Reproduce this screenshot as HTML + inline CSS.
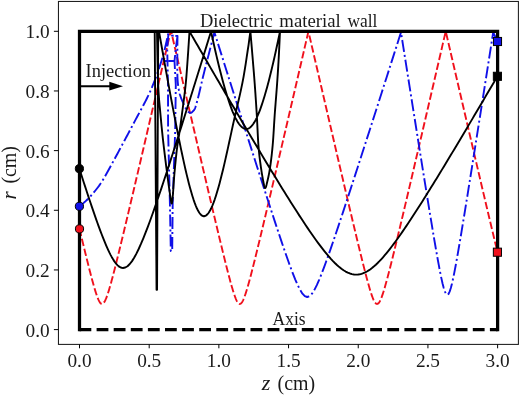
<!DOCTYPE html>
<html><head><meta charset="utf-8"><title>Trajectories</title>
<style>html,body{margin:0;padding:0;background:#fff}body{width:520px;height:396px;overflow:hidden}svg{display:block}svg text{font-family:"Liberation Serif",serif}</style></head>
<body>
<svg width="520" height="396" viewBox="0 0 520 396">
<rect width="520" height="396" fill="#fff"/>
<rect x="58.45" y="1.45" width="459.95" height="342.95" fill="none" stroke="#1a1a1a" stroke-width="1.05"/>
<line x1="79.50" y1="344.4" x2="79.50" y2="348.3" stroke="#000" stroke-width="1"/>
<text x="79.50" y="367.2" font-size="19.3" text-anchor="middle" fill="#1a1a1a">0.0</text>
<line x1="149.19" y1="344.4" x2="149.19" y2="348.3" stroke="#000" stroke-width="1"/>
<text x="149.19" y="367.2" font-size="19.3" text-anchor="middle" fill="#1a1a1a">0.5</text>
<line x1="218.87" y1="344.4" x2="218.87" y2="348.3" stroke="#000" stroke-width="1"/>
<text x="218.87" y="367.2" font-size="19.3" text-anchor="middle" fill="#1a1a1a">1.0</text>
<line x1="288.56" y1="344.4" x2="288.56" y2="348.3" stroke="#000" stroke-width="1"/>
<text x="288.56" y="367.2" font-size="19.3" text-anchor="middle" fill="#1a1a1a">1.5</text>
<line x1="358.24" y1="344.4" x2="358.24" y2="348.3" stroke="#000" stroke-width="1"/>
<text x="358.24" y="367.2" font-size="19.3" text-anchor="middle" fill="#1a1a1a">2.0</text>
<line x1="427.93" y1="344.4" x2="427.93" y2="348.3" stroke="#000" stroke-width="1"/>
<text x="427.93" y="367.2" font-size="19.3" text-anchor="middle" fill="#1a1a1a">2.5</text>
<line x1="497.61" y1="344.4" x2="497.61" y2="348.3" stroke="#000" stroke-width="1"/>
<text x="497.61" y="367.2" font-size="19.3" text-anchor="middle" fill="#1a1a1a">3.0</text>
<line x1="53.9" y1="329.60" x2="58.45" y2="329.60" stroke="#000" stroke-width="1"/>
<text x="49.6" y="336.70" font-size="19.3" text-anchor="end" fill="#1a1a1a">0.0</text>
<line x1="53.9" y1="269.94" x2="58.45" y2="269.94" stroke="#000" stroke-width="1"/>
<text x="49.6" y="277.04" font-size="19.3" text-anchor="end" fill="#1a1a1a">0.2</text>
<line x1="53.9" y1="210.28" x2="58.45" y2="210.28" stroke="#000" stroke-width="1"/>
<text x="49.6" y="217.38" font-size="19.3" text-anchor="end" fill="#1a1a1a">0.4</text>
<line x1="53.9" y1="150.62" x2="58.45" y2="150.62" stroke="#000" stroke-width="1"/>
<text x="49.6" y="157.72" font-size="19.3" text-anchor="end" fill="#1a1a1a">0.6</text>
<line x1="53.9" y1="90.96" x2="58.45" y2="90.96" stroke="#000" stroke-width="1"/>
<text x="49.6" y="98.06" font-size="19.3" text-anchor="end" fill="#1a1a1a">0.8</text>
<line x1="53.9" y1="31.30" x2="58.45" y2="31.30" stroke="#000" stroke-width="1"/>
<text x="49.6" y="38.40" font-size="19.3" text-anchor="end" fill="#1a1a1a">1.0</text>
<text y="389.7" font-size="20" fill="#1a1a1a"><tspan x="261.8" font-style="italic" textLength="8.6" lengthAdjust="spacingAndGlyphs">z</tspan> <tspan x="277.6" textLength="37.6" lengthAdjust="spacingAndGlyphs">(cm)</tspan></text>
<text transform="translate(16.4,199.8) rotate(-90)" y="0" font-size="20" fill="#1a1a1a"><tspan x="0.3" font-style="italic" textLength="8.2" lengthAdjust="spacingAndGlyphs">r</tspan> <tspan x="16.2" textLength="37.6" lengthAdjust="spacingAndGlyphs">(cm)</tspan></text>
<path d="M79.50,228.87 L79.85,230.33 L80.20,231.78 L80.55,233.24 L80.89,234.69 L81.24,236.15 L81.59,237.60 L81.94,239.04 L82.29,240.49 L82.64,241.93 L82.99,243.38 L83.34,244.82 L83.68,246.25 L84.03,247.69 L84.38,249.12 L84.73,250.55 L85.08,251.97 L85.43,253.40 L85.78,254.82 L86.13,256.23 L86.47,257.64 L86.82,259.05 L87.17,260.46 L87.52,261.85 L87.87,263.25 L88.22,264.64 L88.57,266.02 L88.92,267.40 L89.26,268.77 L89.61,270.14 L89.96,271.49 L90.31,272.84 L90.66,274.19 L91.01,275.52 L91.36,276.84 L91.71,278.16 L92.05,279.46 L92.40,280.75 L92.75,282.03 L93.10,283.29 L93.45,284.54 L93.80,285.77 L94.15,286.99 L94.49,288.18 L94.84,289.36 L95.19,290.51 L95.54,291.63 L95.89,292.73 L96.24,293.80 L96.59,294.84 L96.94,295.84 L97.28,296.80 L97.63,297.72 L97.98,298.59 L98.33,299.41 L98.68,300.18 L99.03,300.89 L99.38,301.53 L99.73,302.11 L100.07,302.62 L100.42,303.04 L100.77,303.39 L101.12,303.66 L101.47,303.84 L101.82,303.93 L102.17,303.94 L102.52,303.85 L102.86,303.68 L103.21,303.42 L103.56,303.08 L103.91,302.66 L104.26,302.16 L104.61,301.59 L104.96,300.95 L105.30,300.25 L105.65,299.48 L106.00,298.67 L106.35,297.80 L106.70,296.88 L107.05,295.93 L107.40,294.93 L107.75,293.90 L108.09,292.83 L108.44,291.74 L108.79,290.61 L109.14,289.46 L109.49,288.29 L109.84,287.10 L110.19,285.89 L110.54,284.65 L110.88,283.41 L111.23,282.14 L111.58,280.87 L111.93,279.58 L112.28,278.28 L112.63,276.97 L112.98,275.64 L113.33,274.31 L113.67,272.97 L114.02,271.62 L114.37,270.26 L114.72,268.90 L115.07,267.53 L115.42,266.15 L115.77,264.77 L116.12,263.38 L116.46,261.98 L116.81,260.59 L117.16,259.18 L117.51,257.77 L117.86,256.36 L118.21,254.95 L118.56,253.53 L118.90,252.11 L119.25,250.68 L119.60,249.25 L119.95,247.82 L120.30,246.39 L120.65,244.95 L121.00,243.51 L121.35,242.07 L121.69,240.62 L122.04,239.18 L122.39,237.73 L122.74,236.28 L123.09,234.83 L123.44,233.37 L123.79,231.92 L124.14,230.46 L124.48,229.00 L124.83,227.54 L125.18,226.08 L125.53,224.62 L125.88,223.15 L126.23,221.69 L126.58,220.22 L126.93,218.75 L127.27,217.29 L127.62,215.82 L127.97,214.35 L128.32,212.87 L128.67,211.40 L129.02,209.93 L129.37,208.45 L129.72,206.98 L130.06,205.50 L130.41,204.02 L130.76,202.55 L131.11,201.07 L131.46,199.59 L131.81,198.11 L132.16,196.63 L132.50,195.15 L132.85,193.67 L133.20,192.18 L133.55,190.70 L133.90,189.22 L134.25,187.73 L134.60,186.25 L134.95,184.76 L135.29,183.28 L135.64,181.79 L135.99,180.31 L136.34,178.82 L136.69,177.33 L137.04,175.84 L137.39,174.36 L137.74,172.87 L138.08,171.38 L138.43,169.89 L138.78,168.40 L139.13,166.91 L139.48,165.42 L139.83,163.93 L140.18,162.44 L140.53,160.94 L140.87,159.45 L141.22,157.96 L141.57,156.47 L141.92,154.98 L142.27,153.48 L142.62,151.99 L142.97,150.50 L143.31,149.00 L143.66,147.51 L144.01,146.01 L144.36,144.52 L144.71,143.02 L145.06,141.53 L145.41,140.03 L145.76,138.54 L146.10,137.04 L146.45,135.55 L146.80,134.05 L147.15,132.56 L147.50,131.06 L147.85,129.56 L148.20,128.07 L148.55,126.57 L148.89,125.07 L149.24,123.57 L149.59,122.08 L149.94,120.58 L150.29,119.08 L150.64,117.58 L150.99,116.09 L151.34,114.59 L151.68,113.09 L152.03,111.59 L152.38,110.09 L152.73,108.59 L153.08,107.09 L153.43,105.59 L153.78,104.09 L154.13,102.60 L154.47,101.10 L154.82,99.60 L155.17,98.10 L155.52,96.60 L155.87,95.10 L156.22,93.60 L156.57,92.10 L156.91,90.60 L157.26,89.10 L157.61,87.59 L157.96,86.09 L158.31,84.59 L158.66,83.09 L159.01,81.59 L159.36,80.09 L159.70,78.59 L160.05,77.09 L160.40,75.59 L160.75,74.08 L161.10,72.58 L161.45,71.08 L161.80,69.58 L162.15,68.08 L162.49,66.58 L162.84,65.07 L163.19,63.57 L163.54,62.07 L163.89,60.57 L164.24,59.06 L164.59,57.56 L164.94,56.06 L165.28,54.56 L165.63,53.05 L165.98,51.55 L166.33,50.05 L166.68,48.55 L167.03,47.04 L167.38,45.54 L167.73,44.04 L168.07,42.53 L168.42,41.03 L168.77,39.53 L169.12,38.02 L169.47,36.52 L169.82,35.02 L170.17,33.51 L170.51,32.01 L170.86,31.30 L171.21,31.77 L171.56,33.27 L171.91,34.77 L172.26,36.28 L172.61,37.78 L172.96,39.28 L173.30,40.79 L173.65,42.29 L174.00,43.79 L174.35,45.30 L174.70,46.80 L175.05,48.30 L175.40,49.80 L175.75,51.31 L176.09,52.81 L176.44,54.31 L176.79,55.82 L177.14,57.32 L177.49,58.82 L177.84,60.32 L178.19,61.82 L178.54,63.33 L178.88,64.83 L179.23,66.33 L179.58,67.83 L179.93,69.33 L180.28,70.84 L180.63,72.34 L180.98,73.84 L181.32,75.34 L181.67,76.84 L182.02,78.34 L182.37,79.85 L182.72,81.35 L183.07,82.85 L183.42,84.35 L183.77,85.85 L184.11,87.35 L184.46,88.85 L184.81,90.35 L185.16,91.85 L185.51,93.35 L185.86,94.85 L186.21,96.35 L186.56,97.85 L186.90,99.35 L187.25,100.85 L187.60,102.35 L187.95,103.85 L188.30,105.35 L188.65,106.85 L189.00,108.35 L189.35,109.85 L189.69,111.35 L190.04,112.84 L190.39,114.34 L190.74,115.84 L191.09,117.34 L191.44,118.84 L191.79,120.34 L192.14,121.83 L192.48,123.33 L192.83,124.83 L193.18,126.33 L193.53,127.82 L193.88,129.32 L194.23,130.82 L194.58,132.31 L194.92,133.81 L195.27,135.30 L195.62,136.80 L195.97,138.30 L196.32,139.79 L196.67,141.29 L197.02,142.78 L197.37,144.28 L197.71,145.77 L198.06,147.27 L198.41,148.76 L198.76,150.25 L199.11,151.75 L199.46,153.24 L199.81,154.73 L200.16,156.23 L200.50,157.72 L200.85,159.21 L201.20,160.70 L201.55,162.19 L201.90,163.68 L202.25,165.18 L202.60,166.67 L202.95,168.16 L203.29,169.65 L203.64,171.14 L203.99,172.62 L204.34,174.11 L204.69,175.60 L205.04,177.09 L205.39,178.58 L205.74,180.06 L206.08,181.55 L206.43,183.04 L206.78,184.52 L207.13,186.01 L207.48,187.49 L207.83,188.98 L208.18,190.46 L208.52,191.94 L208.87,193.42 L209.22,194.91 L209.57,196.39 L209.92,197.87 L210.27,199.35 L210.62,200.83 L210.97,202.31 L211.31,203.78 L211.66,205.26 L212.01,206.74 L212.36,208.21 L212.71,209.69 L213.06,211.16 L213.41,212.63 L213.76,214.11 L214.10,215.58 L214.45,217.05 L214.80,218.52 L215.15,219.98 L215.50,221.45 L215.85,222.92 L216.20,224.38 L216.55,225.84 L216.89,227.30 L217.24,228.76 L217.59,230.22 L217.94,231.68 L218.29,233.14 L218.64,234.59 L218.99,236.04 L219.33,237.49 L219.68,238.94 L220.03,240.39 L220.38,241.83 L220.73,243.27 L221.08,244.71 L221.43,246.15 L221.78,247.59 L222.12,249.02 L222.47,250.45 L222.82,251.87 L223.17,253.30 L223.52,254.72 L223.87,256.13 L224.22,257.54 L224.57,258.95 L224.91,260.36 L225.26,261.76 L225.61,263.15 L225.96,264.54 L226.31,265.92 L226.66,267.30 L227.01,268.68 L227.36,270.04 L227.70,271.40 L228.05,272.75 L228.40,274.09 L228.75,275.43 L229.10,276.75 L229.45,278.06 L229.80,279.37 L230.15,280.66 L230.49,281.94 L230.84,283.20 L231.19,284.45 L231.54,285.69 L231.89,286.90 L232.24,288.10 L232.59,289.27 L232.93,290.43 L233.28,291.55 L233.63,292.65 L233.98,293.73 L234.33,294.76 L234.68,295.77 L235.03,296.73 L235.38,297.65 L235.72,298.53 L236.07,299.35 L236.42,300.13 L236.77,300.84 L237.12,301.49 L237.47,302.07 L237.82,302.58 L238.17,303.02 L238.51,303.37 L238.86,303.64 L239.21,303.83 L239.56,303.93 L239.91,303.94 L240.26,303.86 L240.61,303.70 L240.96,303.44 L241.30,303.11 L241.65,302.69 L242.00,302.20 L242.35,301.63 L242.70,301.00 L243.05,300.30 L243.40,299.54 L243.75,298.73 L244.09,297.86 L244.44,296.95 L244.79,295.99 L245.14,295.00 L245.49,293.97 L245.84,292.91 L246.19,291.81 L246.53,290.69 L246.88,289.54 L247.23,288.37 L247.58,287.18 L247.93,285.97 L248.28,284.74 L248.63,283.50 L248.98,282.23 L249.32,280.96 L249.67,279.67 L250.02,278.37 L250.37,277.06 L250.72,275.74 L251.07,274.40 L251.42,273.06 L251.77,271.71 L252.11,270.36 L252.46,268.99 L252.81,267.62 L253.16,266.25 L253.51,264.86 L253.86,263.48 L254.21,262.08 L254.56,260.68 L254.90,259.28 L255.25,257.87 L255.60,256.46 L255.95,255.05 L256.30,253.63 L256.65,252.21 L257.00,250.78 L257.34,249.35 L257.69,247.92 L258.04,246.49 L258.39,245.05 L258.74,243.61 L259.09,242.17 L259.44,240.73 L259.79,239.28 L260.13,237.83 L260.48,236.38 L260.83,234.93 L261.18,233.48 L261.53,232.02 L261.88,230.56 L262.23,229.11 L262.58,227.65 L262.92,226.18 L263.27,224.72 L263.62,223.26 L263.97,221.79 L264.32,220.33 L264.67,218.86 L265.02,217.39 L265.37,215.92 L265.71,214.45 L266.06,212.98 L266.41,211.50 L266.76,210.03 L267.11,208.56 L267.46,207.08 L267.81,205.61 L268.16,204.13 L268.50,202.65 L268.85,201.17 L269.20,199.69 L269.55,198.21 L269.90,196.73 L270.25,195.25 L270.60,193.77 L270.94,192.29 L271.29,190.81 L271.64,189.32 L271.99,187.84 L272.34,186.35 L272.69,184.87 L273.04,183.38 L273.39,181.90 L273.73,180.41 L274.08,178.92 L274.43,177.44 L274.78,175.95 L275.13,174.46 L275.48,172.97 L275.83,171.48 L276.18,169.99 L276.52,168.50 L276.87,167.01 L277.22,165.52 L277.57,164.03 L277.92,162.54 L278.27,161.05 L278.62,159.56 L278.97,158.07 L279.31,156.57 L279.66,155.08 L280.01,153.59 L280.36,152.09 L280.71,150.60 L281.06,149.11 L281.41,147.61 L281.76,146.12 L282.10,144.63 L282.45,143.13 L282.80,141.64 L283.15,140.14 L283.50,138.64 L283.85,137.15 L284.20,135.65 L284.54,134.16 L284.89,132.66 L285.24,131.16 L285.59,129.67 L285.94,128.17 L286.29,126.67 L286.64,125.18 L286.99,123.68 L287.33,122.18 L287.68,120.68 L288.03,119.19 L288.38,117.69 L288.73,116.19 L289.08,114.69 L289.43,113.19 L289.78,111.70 L290.12,110.20 L290.47,108.70 L290.82,107.20 L291.17,105.70 L291.52,104.20 L291.87,102.70 L292.22,101.20 L292.57,99.70 L292.91,98.20 L293.26,96.70 L293.61,95.20 L293.96,93.70 L294.31,92.20 L294.66,90.70 L295.01,89.20 L295.35,87.70 L295.70,86.20 L296.05,84.70 L296.40,83.20 L296.75,81.70 L297.10,80.20 L297.45,78.69 L297.80,77.19 L298.14,75.69 L298.49,74.19 L298.84,72.69 L299.19,71.19 L299.54,69.69 L299.89,68.18 L300.24,66.68 L300.59,65.18 L300.93,63.68 L301.28,62.18 L301.63,60.67 L301.98,59.17 L302.33,57.67 L302.68,56.17 L303.03,54.66 L303.38,53.16 L303.72,51.66 L304.07,50.16 L304.42,48.65 L304.77,47.15 L305.12,45.65 L305.47,44.14 L305.82,42.64 L306.17,41.14 L306.51,39.63 L306.86,38.13 L307.21,36.63 L307.56,35.12 L307.91,33.62 L308.26,32.12 L308.61,32.26 L308.95,33.76 L309.30,35.27 L309.65,36.77 L310.00,38.27 L310.35,39.78 L310.70,41.28 L311.05,42.78 L311.40,44.29 L311.74,45.79 L312.09,47.29 L312.44,48.80 L312.79,50.30 L313.14,51.80 L313.49,53.30 L313.84,54.81 L314.19,56.31 L314.53,57.81 L314.88,59.31 L315.23,60.82 L315.58,62.32 L315.93,63.82 L316.28,65.32 L316.63,66.82 L316.98,68.33 L317.32,69.83 L317.67,71.33 L318.02,72.83 L318.37,74.33 L318.72,75.83 L319.07,77.34 L319.42,78.84 L319.77,80.34 L320.11,81.84 L320.46,83.34 L320.81,84.84 L321.16,86.34 L321.51,87.84 L321.86,89.34 L322.21,90.84 L322.55,92.34 L322.90,93.84 L323.25,95.34 L323.60,96.84 L323.95,98.34 L324.30,99.84 L324.65,101.34 L325.00,102.84 L325.34,104.34 L325.69,105.84 L326.04,107.34 L326.39,108.84 L326.74,110.34 L327.09,111.84 L327.44,113.34 L327.79,114.84 L328.13,116.33 L328.48,117.83 L328.83,119.33 L329.18,120.83 L329.53,122.32 L329.88,123.82 L330.23,125.32 L330.58,126.82 L330.92,128.31 L331.27,129.81 L331.62,131.31 L331.97,132.80 L332.32,134.30 L332.67,135.80 L333.02,137.29 L333.36,138.79 L333.71,140.28 L334.06,141.78 L334.41,143.27 L334.76,144.77 L335.11,146.26 L335.46,147.76 L335.81,149.25 L336.15,150.74 L336.50,152.24 L336.85,153.73 L337.20,155.22 L337.55,156.72 L337.90,158.21 L338.25,159.70 L338.60,161.19 L338.94,162.68 L339.29,164.17 L339.64,165.66 L339.99,167.16 L340.34,168.65 L340.69,170.13 L341.04,171.62 L341.39,173.11 L341.73,174.60 L342.08,176.09 L342.43,177.58 L342.78,179.06 L343.13,180.55 L343.48,182.04 L343.83,183.52 L344.18,185.01 L344.52,186.49 L344.87,187.98 L345.22,189.46 L345.57,190.95 L345.92,192.43 L346.27,193.91 L346.62,195.39 L346.96,196.87 L347.31,198.35 L347.66,199.83 L348.01,201.31 L348.36,202.79 L348.71,204.27 L349.06,205.75 L349.41,207.22 L349.75,208.70 L350.10,210.17 L350.45,211.64 L350.80,213.12 L351.15,214.59 L351.50,216.06 L351.85,217.53 L352.20,219.00 L352.54,220.47 L352.89,221.93 L353.24,223.40 L353.59,224.86 L353.94,226.32 L354.29,227.78 L354.64,229.24 L354.99,230.70 L355.33,232.16 L355.68,233.61 L356.03,235.07 L356.38,236.52 L356.73,237.97 L357.08,239.42 L357.43,240.86 L357.78,242.31 L358.12,243.75 L358.47,245.19 L358.82,246.62 L359.17,248.06 L359.52,249.49 L359.87,250.92 L360.22,252.34 L360.56,253.76 L360.91,255.18 L361.26,256.60 L361.61,258.01 L361.96,259.41 L362.31,260.82 L362.66,262.21 L363.01,263.61 L363.35,265.00 L363.70,266.38 L364.05,267.75 L364.40,269.12 L364.75,270.49 L365.10,271.84 L365.45,273.19 L365.80,274.53 L366.14,275.86 L366.49,277.18 L366.84,278.49 L367.19,279.79 L367.54,281.08 L367.89,282.35 L368.24,283.61 L368.59,284.86 L368.93,286.09 L369.28,287.30 L369.63,288.49 L369.98,289.65 L370.33,290.80 L370.68,291.92 L371.03,293.01 L371.37,294.07 L371.72,295.10 L372.07,296.09 L372.42,297.04 L372.77,297.95 L373.12,298.80 L373.47,299.61 L373.82,300.37 L374.16,301.06 L374.51,301.69 L374.86,302.25 L375.21,302.73 L375.56,303.14 L375.91,303.47 L376.26,303.71 L376.61,303.87 L376.95,303.94 L377.30,303.92 L377.65,303.82 L378.00,303.62 L378.35,303.34 L378.70,302.98 L379.05,302.54 L379.40,302.02 L379.74,301.43 L380.09,300.77 L380.44,300.05 L380.79,299.28 L381.14,298.45 L381.49,297.57 L381.84,296.64 L382.19,295.67 L382.53,294.67 L382.88,293.63 L383.23,292.55 L383.58,291.45 L383.93,290.32 L384.28,289.16 L384.63,287.99 L384.97,286.79 L385.32,285.57 L385.67,284.33 L386.02,283.08 L386.37,281.82 L386.72,280.54 L387.07,279.24 L387.42,277.94 L387.76,276.63 L388.11,275.30 L388.46,273.97 L388.81,272.62 L389.16,271.27 L389.51,269.91 L389.86,268.55 L390.21,267.17 L390.55,265.79 L390.90,264.41 L391.25,263.02 L391.60,261.62 L391.95,260.22 L392.30,258.82 L392.65,257.41 L393.00,256.00 L393.34,254.58 L393.69,253.16 L394.04,251.74 L394.39,250.31 L394.74,248.88 L395.09,247.45 L395.44,246.02 L395.79,244.58 L396.13,243.14 L396.48,241.70 L396.83,240.25 L397.18,238.80 L397.53,237.36 L397.88,235.90 L398.23,234.45 L398.57,233.00 L398.92,231.54 L399.27,230.09 L399.62,228.63 L399.97,227.17 L400.32,225.70 L400.67,224.24 L401.02,222.78 L401.36,221.31 L401.71,219.84 L402.06,218.38 L402.41,216.91 L402.76,215.44 L403.11,213.97 L403.46,212.49 L403.81,211.02 L404.15,209.55 L404.50,208.07 L404.85,206.60 L405.20,205.12 L405.55,203.64 L405.90,202.17 L406.25,200.69 L406.60,199.21 L406.94,197.73 L407.29,196.25 L407.64,194.77 L407.99,193.28 L408.34,191.80 L408.69,190.32 L409.04,188.83 L409.38,187.35 L409.73,185.87 L410.08,184.38 L410.43,182.89 L410.78,181.41 L411.13,179.92 L411.48,178.44 L411.83,176.95 L412.17,175.46 L412.52,173.97 L412.87,172.48 L413.22,170.99 L413.57,169.50 L413.92,168.01 L414.27,166.52 L414.62,165.03 L414.96,163.54 L415.31,162.05 L415.66,160.56 L416.01,159.07 L416.36,157.58 L416.71,156.08 L417.06,154.59 L417.41,153.10 L417.75,151.60 L418.10,150.11 L418.45,148.62 L418.80,147.12 L419.15,145.63 L419.50,144.13 L419.85,142.64 L420.20,141.14 L420.54,139.65 L420.89,138.15 L421.24,136.66 L421.59,135.16 L421.94,133.67 L422.29,132.17 L422.64,130.67 L422.98,129.18 L423.33,127.68 L423.68,126.18 L424.03,124.69 L424.38,123.19 L424.73,121.69 L425.08,120.19 L425.43,118.70 L425.77,117.20 L426.12,115.70 L426.47,114.20 L426.82,112.70 L427.17,111.20 L427.52,109.70 L427.87,108.21 L428.22,106.71 L428.56,105.21 L428.91,103.71 L429.26,102.21 L429.61,100.71 L429.96,99.21 L430.31,97.71 L430.66,96.21 L431.01,94.71 L431.35,93.21 L431.70,91.71 L432.05,90.21 L432.40,88.71 L432.75,87.21 L433.10,85.71 L433.45,84.21 L433.80,82.70 L434.14,81.20 L434.49,79.70 L434.84,78.20 L435.19,76.70 L435.54,75.20 L435.89,73.70 L436.24,72.20 L436.58,70.69 L436.93,69.19 L437.28,67.69 L437.63,66.19 L437.98,64.69 L438.33,63.18 L438.68,61.68 L439.03,60.18 L439.37,58.68 L439.72,57.18 L440.07,55.67 L440.42,54.17 L440.77,52.67 L441.12,51.16 L441.47,49.66 L441.82,48.16 L442.16,46.66 L442.51,45.15 L442.86,43.65 L443.21,42.15 L443.56,40.64 L443.91,39.14 L444.26,37.64 L444.61,36.13 L444.95,34.63 L445.30,33.13 L445.65,31.62 L446.00,32.45 L446.35,33.96 L446.70,35.46 L447.05,36.96 L447.39,38.47 L447.74,39.97 L448.09,41.47 L448.44,42.98 L448.79,44.48 L449.14,45.98 L449.49,47.49 L449.84,48.99 L450.18,50.49 L450.53,51.99 L450.88,53.50 L451.23,55.00 L451.58,56.50 L451.93,58.00 L452.28,59.51 L452.63,61.01 L452.97,62.51 L453.32,64.01 L453.67,65.52 L454.02,67.02 L454.37,68.52 L454.72,70.02 L455.07,71.52 L455.42,73.02 L455.76,74.53 L456.11,76.03 L456.46,77.53 L456.81,79.03 L457.16,80.53 L457.51,82.03 L457.86,83.53 L458.21,85.03 L458.55,86.53 L458.90,88.04 L459.25,89.54 L459.60,91.04 L459.95,92.54 L460.30,94.04 L460.65,95.54 L460.99,97.04 L461.34,98.54 L461.69,100.04 L462.04,101.54 L462.39,103.04 L462.74,104.54 L463.09,106.03 L463.44,107.53 L463.78,109.03 L464.13,110.53 L464.48,112.03 L464.83,113.53 L465.18,115.03 L465.53,116.53 L465.88,118.02 L466.23,119.52 L466.57,121.02 L466.92,122.52 L467.27,124.01 L467.62,125.51 L467.97,127.01 L468.32,128.51 L468.67,130.00 L469.02,131.50 L469.36,133.00 L469.71,134.49 L470.06,135.99 L470.41,137.48 L470.76,138.98 L471.11,140.47 L471.46,141.97 L471.81,143.46 L472.15,144.96 L472.50,146.45 L472.85,147.95 L473.20,149.44 L473.55,150.94 L473.90,152.43 L474.25,153.92 L474.59,155.41 L474.94,156.91 L475.29,158.40 L475.64,159.89 L475.99,161.38 L476.34,162.87 L476.69,164.37 L477.04,165.86 L477.38,167.35 L477.73,168.84 L478.08,170.33 L478.43,171.82 L478.78,173.30 L479.13,174.79 L479.48,176.28 L479.83,177.77 L480.17,179.26 L480.52,180.74 L480.87,182.23 L481.22,183.71 L481.57,185.20 L481.92,186.69 L482.27,188.17 L482.62,189.65 L482.96,191.14 L483.31,192.62 L483.66,194.10 L484.01,195.58 L484.36,197.06 L484.71,198.54 L485.06,200.02 L485.40,201.50 L485.75,202.98 L486.10,204.46 L486.45,205.94 L486.80,207.41 L487.15,208.89 L487.50,210.36 L487.85,211.83 L488.19,213.31 L488.54,214.78 L488.89,216.25 L489.24,217.72 L489.59,219.19 L489.94,220.65 L490.29,222.12 L490.64,223.58 L490.98,225.05 L491.33,226.51 L491.68,227.97 L492.03,229.43 L492.38,230.89 L492.73,232.35 L493.08,233.80 L493.43,235.25 L493.77,236.71 L494.12,238.16 L494.47,239.60 L494.82,241.05 L495.17,242.49 L495.52,243.93 L495.87,245.37 L496.22,246.81 L496.56,248.24 L496.91,249.67 L497.26,251.10 L497.61,252.52" fill="none" stroke="#f0101c" stroke-width="1.9" stroke-dasharray="7.4 2.8" stroke-linejoin="round"/>
<path d="M79.40,206.60 L79.88,206.17 L80.48,205.65 L81.18,205.05 L81.96,204.38 L82.82,203.65 L83.73,202.86 L84.67,202.01 L85.65,201.13 L86.63,200.21 L87.61,199.26 L88.57,198.29 L89.50,197.30 L90.41,196.29 L91.35,195.25 L92.29,194.18 L93.26,193.07 L94.23,191.93 L95.21,190.74 L96.19,189.52 L97.18,188.26 L98.16,186.96 L99.15,185.62 L100.13,184.23 L101.10,182.80 L102.07,181.31 L103.03,179.76 L104.00,178.15 L104.96,176.49 L105.93,174.78 L106.89,173.05 L107.86,171.29 L108.83,169.51 L109.79,167.73 L110.76,165.94 L111.73,164.16 L112.70,162.40 L113.67,160.64 L114.65,158.86 L115.62,157.07 L116.60,155.27 L117.57,153.46 L118.55,151.64 L119.53,149.81 L120.50,147.99 L121.48,146.16 L122.45,144.34 L123.43,142.52 L124.40,140.70 L125.37,138.88 L126.36,137.04 L127.34,135.19 L128.33,133.33 L129.32,131.48 L130.30,129.62 L131.28,127.78 L132.25,125.96 L133.21,124.15 L134.15,122.37 L135.09,120.62 L136.00,118.90 L136.91,117.20 L137.82,115.51 L138.73,113.83 L139.63,112.17 L140.52,110.52 L141.40,108.90 L142.26,107.31 L143.09,105.76 L143.90,104.24 L144.67,102.78 L145.41,101.36 L146.10,100.00 L146.74,98.72 L147.33,97.54 L147.88,96.43 L148.39,95.38 L148.87,94.37 L149.33,93.38 L149.78,92.40 L150.22,91.41 L150.67,90.39 L151.12,89.33 L151.60,88.20 L152.10,87.00 L152.62,85.73 L153.15,84.41 L153.69,83.05 L154.24,81.67 L154.78,80.25 L155.33,78.81 L155.88,77.36 L156.42,75.89 L156.95,74.41 L157.48,72.94 L158.00,71.46 L158.50,70.00 L158.99,68.54 L159.48,67.08 L159.96,65.61 L160.44,64.13 L160.91,62.65 L161.37,61.16 L161.82,59.66 L162.27,58.15 L162.72,56.63 L163.15,55.10 L163.58,53.56 L164.00,52.00 L164.42,50.37 L164.86,48.61 L165.30,46.77 L165.74,44.89 L166.17,42.99 L166.59,41.12 L166.99,39.32 L167.37,37.61 L167.71,36.04 L168.02,34.64 L168.29,33.45 L168.50,32.50 L168.50,33.00 L167.20,48.00 L168.00,85.00 L168.10,130.00 L169.90,203.00 L170.80,251.00 L172.20,251.00 L172.70,203.00 L175.20,130.00 L175.80,85.00 L174.50,61.00 L165.50,61.00 L174.50,61.00 L176.00,47.00 L177.50,36.00 L172.00,35.60 L177.50,36.00 L177.50,36.00 L177.49,37.17 L177.47,38.66 L177.45,40.41 L177.43,42.37 L177.41,44.50 L177.38,46.75 L177.36,49.07 L177.34,51.41 L177.32,53.72 L177.31,55.95 L177.30,58.06 L177.30,60.00 L177.30,61.83 L177.30,63.65 L177.30,65.45 L177.30,67.22 L177.31,68.97 L177.32,70.69 L177.34,72.37 L177.36,74.00 L177.40,75.59 L177.45,77.12 L177.52,78.59 L177.60,80.00 L177.70,81.34 L177.81,82.61 L177.93,83.82 L178.06,84.98 L178.20,86.09 L178.35,87.16 L178.51,88.19 L178.69,89.19 L178.88,90.16 L179.07,91.12 L179.28,92.06 L179.50,93.00 L179.73,93.92 L179.98,94.80 L180.25,95.66 L180.53,96.48 L180.82,97.28 L181.12,98.06 L181.43,98.83 L181.74,99.57 L182.05,100.31 L182.37,101.04 L182.69,101.77 L183.00,102.50 L183.32,103.24 L183.64,103.99 L183.98,104.74 L184.31,105.49 L184.66,106.23 L185.00,106.95 L185.34,107.65 L185.69,108.31 L186.02,108.94 L186.36,109.51 L186.68,110.04 L187.00,110.50 L187.31,110.90 L187.62,111.26 L187.93,111.57 L188.23,111.84 L188.53,112.07 L188.83,112.26 L189.12,112.42 L189.41,112.55 L189.69,112.65 L189.97,112.72 L190.24,112.77 L190.50,112.80 L190.75,112.80 L191.00,112.76 L191.25,112.68 L191.48,112.57 L191.71,112.43 L191.94,112.26 L192.16,112.08 L192.37,111.88 L192.59,111.67 L192.79,111.45 L193.00,111.22 L193.20,111.00 L193.39,110.79 L193.57,110.61 L193.74,110.43 L193.90,110.26 L194.06,110.07 L194.22,109.86 L194.38,109.61 L194.54,109.32 L194.71,108.98 L194.89,108.57 L195.09,108.08 L195.30,107.50 L195.53,106.84 L195.76,106.12 L196.00,105.33 L196.25,104.48 L196.51,103.58 L196.78,102.62 L197.05,101.62 L197.33,100.57 L197.61,99.48 L197.90,98.36 L198.20,97.19 L198.50,96.00 L198.81,94.75 L199.13,93.41 L199.47,92.00 L199.81,90.54 L200.15,89.03 L200.51,87.50 L200.86,85.95 L201.21,84.41 L201.57,82.88 L201.92,81.37 L202.26,79.91 L202.60,78.50 L202.93,77.14 L203.26,75.79 L203.59,74.47 L203.92,73.16 L204.24,71.86 L204.57,70.58 L204.89,69.31 L205.21,68.04 L205.54,66.78 L205.86,65.52 L206.18,64.26 L206.50,63.00 L206.82,61.75 L207.14,60.51 L207.45,59.28 L207.76,58.06 L208.08,56.84 L208.39,55.62 L208.70,54.41 L209.01,53.19 L209.33,51.96 L209.65,50.72 L209.97,49.47 L210.30,48.20 L210.64,46.86 L211.01,45.43 L211.40,43.93 L211.80,42.39 L212.19,40.85 L212.59,39.33 L212.97,37.85 L213.33,36.46 L213.66,35.18 L213.95,34.04 L214.20,33.07 L214.40,32.30 L216.78,39.83 L219.16,47.36 L221.54,54.88 L223.92,62.41 L226.30,69.92 L228.68,77.44 L231.06,84.95 L233.44,92.46 L235.82,99.96 L238.19,107.46 L240.57,114.95 L242.95,122.44 L245.33,129.92 L247.71,137.39 L250.09,144.85 L252.47,152.30 L254.85,159.75 L257.23,167.18 L259.61,174.59 L261.99,181.99 L264.37,189.37 L266.75,196.73 L269.13,204.06 L271.51,211.36 L273.89,218.62 L276.27,225.84 L278.65,233.01 L281.03,240.10 L283.41,247.11 L285.78,254.01 L288.16,260.77 L290.54,267.34 L292.92,273.66 L295.30,279.62 L297.68,285.09 L300.06,289.86 L302.44,293.65 L304.82,296.13 L307.20,297.00 L309.61,296.13 L312.01,293.65 L314.42,289.86 L316.82,285.09 L319.23,279.62 L321.63,273.66 L324.04,267.34 L326.44,260.77 L328.85,254.01 L331.25,247.11 L333.66,240.10 L336.06,233.01 L338.47,225.84 L340.87,218.62 L343.28,211.36 L345.68,204.06 L348.09,196.73 L350.49,189.37 L352.90,181.99 L355.30,174.59 L357.71,167.18 L360.11,159.75 L362.52,152.30 L364.92,144.85 L367.33,137.39 L369.73,129.92 L372.14,122.44 L374.54,114.95 L376.95,107.46 L379.35,99.96 L381.76,92.46 L384.16,84.95 L386.57,77.44 L388.97,69.92 L391.38,62.41 L393.78,54.88 L396.19,47.36 L398.59,39.83 L401.00,32.30 L402.19,39.82 L403.37,47.33 L404.56,54.84 L405.75,62.35 L406.94,69.86 L408.12,77.36 L409.31,84.85 L410.50,92.34 L411.68,99.83 L412.87,107.31 L414.06,114.78 L415.25,122.25 L416.43,129.71 L417.62,137.16 L418.81,144.60 L419.99,152.03 L421.18,159.45 L422.37,166.85 L423.56,174.24 L424.74,181.61 L425.93,188.95 L427.12,196.28 L428.31,203.57 L429.49,210.83 L430.68,218.04 L431.87,225.21 L433.05,232.31 L434.24,239.34 L435.43,246.28 L436.62,253.09 L437.80,259.75 L438.99,266.20 L440.18,272.38 L441.36,278.18 L442.55,283.47 L443.74,288.04 L444.93,291.65 L446.11,293.99 L447.30,294.80 L448.48,293.99 L449.65,291.65 L450.83,288.04 L452.01,283.47 L453.18,278.18 L454.36,272.38 L455.54,266.20 L456.72,259.75 L457.89,253.09 L459.07,246.28 L460.25,239.34 L461.42,232.31 L462.60,225.21 L463.78,218.04 L464.95,210.83 L466.13,203.57 L467.31,196.28 L468.48,188.95 L469.66,181.61 L470.84,174.24 L472.02,166.85 L473.19,159.45 L474.37,152.03 L475.55,144.60 L476.72,137.16 L477.90,129.71 L479.08,122.25 L480.25,114.78 L481.43,107.31 L482.61,99.83 L483.78,92.34 L484.96,84.85 L486.14,77.36 L487.32,69.86 L488.49,62.35 L489.67,54.84 L490.85,47.33 L492.02,39.82 L493.20,32.30 L497.50,41.50" fill="none" stroke="#1010e8" stroke-width="1.9" stroke-dasharray="12 3 2 3" stroke-linejoin="round"/>
<path d="M79.40,168.70 L80.52,172.21 L81.64,175.71 L82.75,179.20 L83.87,182.67 L84.99,186.12 L86.11,189.55 L87.23,192.96 L88.34,196.36 L89.46,199.72 L90.58,203.07 L91.70,206.38 L92.82,209.67 L93.93,212.92 L95.05,216.14 L96.17,219.32 L97.29,222.46 L98.41,225.56 L99.52,228.60 L100.64,231.59 L101.76,234.53 L102.88,237.40 L103.99,240.20 L105.11,242.92 L106.23,245.56 L107.35,248.10 L108.47,250.55 L109.58,252.88 L110.70,255.09 L111.82,257.16 L112.94,259.09 L114.06,260.87 L115.17,262.47 L116.29,263.89 L117.41,265.12 L118.53,266.14 L119.65,266.95 L120.76,267.53 L121.88,267.88 L123.00,268.00 L125.26,267.55 L127.51,266.21 L129.77,264.04 L132.03,261.12 L134.28,257.54 L136.54,253.39 L138.79,248.76 L141.05,243.73 L143.31,238.36 L145.56,232.71 L147.82,226.83 L150.08,220.75 L152.33,214.51 L154.59,208.12 L156.85,201.62 L159.10,195.02 L161.36,188.33 L163.62,181.56 L165.87,174.73 L168.13,167.84 L170.38,160.90 L172.64,153.92 L174.90,146.89 L177.15,139.84 L179.41,132.75 L181.67,125.63 L183.92,118.49 L186.18,111.33 L188.44,104.14 L190.69,96.94 L192.95,89.72 L195.21,82.48 L197.46,75.23 L199.72,67.97 L201.97,60.70 L204.23,53.41 L206.49,46.12 L208.74,38.81 L211.00,31.50 L211.91,35.66 L212.81,39.76 L213.72,43.82 L214.62,47.82 L215.53,51.76 L216.43,55.64 L217.34,59.46 L218.24,63.21 L219.15,66.90 L220.05,70.51 L220.96,74.06 L221.86,77.52 L222.77,80.90 L223.67,84.20 L224.58,87.41 L225.48,90.54 L226.39,93.56 L227.29,96.49 L228.20,99.32 L229.10,102.05 L230.01,104.66 L230.91,107.16 L231.82,109.55 L232.72,111.81 L233.63,113.95 L234.53,115.96 L235.44,117.84 L236.34,119.58 L237.25,121.18 L238.15,122.65 L239.06,123.96 L239.96,125.13 L240.87,126.15 L241.77,127.02 L242.68,127.73 L243.58,128.28 L244.49,128.68 L245.39,128.92 L246.30,129.00 L247.16,128.92 L248.03,128.68 L248.89,128.28 L249.76,127.73 L250.62,127.02 L251.48,126.15 L252.35,125.13 L253.21,123.96 L254.08,122.65 L254.94,121.18 L255.81,119.58 L256.67,117.84 L257.53,115.96 L258.40,113.95 L259.26,111.81 L260.13,109.55 L260.99,107.16 L261.85,104.66 L262.72,102.05 L263.58,99.32 L264.45,96.49 L265.31,93.56 L266.17,90.54 L267.04,87.41 L267.90,84.20 L268.77,80.90 L269.63,77.52 L270.49,74.06 L271.36,70.51 L272.22,66.90 L273.09,63.21 L273.95,59.46 L274.82,55.64 L275.68,51.76 L276.54,47.82 L277.41,43.82 L278.27,39.76 L279.14,35.66 L280.00,31.50 L279.93,32.89 L279.85,34.64 L279.75,36.70 L279.64,39.02 L279.53,41.53 L279.40,44.19 L279.27,46.93 L279.13,49.70 L279.00,52.45 L278.86,55.12 L278.73,57.66 L278.60,60.00 L278.48,62.19 L278.35,64.31 L278.23,66.38 L278.11,68.41 L277.98,70.41 L277.86,72.41 L277.73,74.41 L277.59,76.43 L277.45,78.48 L277.31,80.58 L277.16,82.75 L277.00,85.00 L276.83,87.32 L276.65,89.71 L276.47,92.15 L276.27,94.63 L276.08,97.15 L275.88,99.69 L275.67,102.25 L275.47,104.81 L275.27,107.38 L275.07,109.94 L274.88,112.48 L274.70,115.00 L274.53,117.52 L274.36,120.08 L274.20,122.66 L274.04,125.26 L273.88,127.85 L273.73,130.44 L273.57,133.00 L273.41,135.52 L273.24,137.99 L273.07,140.41 L272.89,142.75 L272.70,145.00 L272.50,147.19 L272.29,149.34 L272.08,151.45 L271.86,153.52 L271.63,155.54 L271.40,157.50 L271.17,159.41 L270.93,161.26 L270.70,163.05 L270.46,164.77 L270.23,166.42 L270.00,168.00 L269.77,169.51 L269.53,170.95 L269.29,172.32 L269.04,173.63 L268.80,174.88 L268.56,176.06 L268.32,177.19 L268.08,178.26 L267.85,179.27 L267.62,180.23 L267.41,181.14 L267.20,182.00 L267.00,182.82 L266.82,183.60 L266.64,184.34 L266.47,185.04 L266.30,185.67 L266.14,186.25 L265.98,186.76 L265.82,187.19 L265.67,187.53 L265.51,187.79 L265.36,187.95 L265.20,188.00 L265.05,187.96 L264.90,187.82 L264.76,187.60 L264.62,187.30 L264.49,186.91 L264.35,186.44 L264.21,185.89 L264.07,185.26 L263.92,184.55 L263.76,183.78 L263.58,182.92 L263.40,182.00 L263.20,180.98 L262.98,179.84 L262.76,178.59 L262.52,177.26 L262.27,175.85 L262.02,174.38 L261.77,172.85 L261.53,171.30 L261.28,169.72 L261.04,168.13 L260.82,166.56 L260.60,165.00 L260.39,163.47 L260.19,161.96 L259.99,160.45 L259.80,158.93 L259.61,157.39 L259.43,155.81 L259.24,154.19 L259.07,152.52 L258.89,150.77 L258.73,148.95 L258.56,147.03 L258.40,145.00 L258.25,142.85 L258.10,140.58 L257.97,138.20 L257.84,135.74 L257.71,133.21 L257.59,130.62 L257.46,128.01 L257.34,125.37 L257.21,122.73 L257.08,120.12 L256.95,117.53 L256.80,115.00 L256.65,112.48 L256.49,109.94 L256.33,107.38 L256.16,104.81 L256.00,102.25 L255.83,99.69 L255.65,97.15 L255.48,94.63 L255.31,92.15 L255.14,89.71 L254.97,87.32 L254.80,85.00 L254.63,82.75 L254.47,80.58 L254.31,78.48 L254.15,76.43 L253.99,74.41 L253.83,72.41 L253.66,70.41 L253.50,68.41 L253.33,66.38 L253.16,64.31 L252.98,62.19 L252.80,60.00 L252.61,57.66 L252.40,55.12 L252.17,52.45 L251.94,49.70 L251.71,46.93 L251.48,44.19 L251.25,41.53 L251.04,39.02 L250.84,36.70 L250.67,34.64 L250.52,32.89 L250.40,31.50 L249.45,38.03 L248.61,44.52 L247.62,51.00 L246.66,57.44 L245.70,63.85 L244.69,70.22 L243.60,76.56 L242.41,82.86 L241.11,89.12 L239.74,95.33 L238.32,101.49 L236.90,107.59 L235.50,113.64 L234.14,119.62 L232.82,125.54 L231.55,131.37 L230.30,137.13 L229.08,142.79 L227.86,148.36 L226.66,153.82 L225.46,159.16 L224.26,164.37 L223.06,169.44 L221.86,174.35 L220.66,179.09 L219.47,183.64 L218.27,187.98 L217.07,192.10 L215.87,195.97 L214.68,199.57 L213.48,202.88 L212.28,205.87 L211.08,208.53 L209.89,210.82 L208.69,212.73 L207.49,214.23 L206.29,215.32 L205.10,215.98 L203.90,216.20 L202.75,215.98 L201.60,215.32 L200.45,214.23 L199.29,212.73 L198.14,210.82 L196.99,208.53 L195.84,205.87 L194.69,202.88 L193.54,199.57 L192.39,195.97 L191.24,192.10 L190.08,187.98 L188.93,183.64 L187.78,179.09 L186.63,174.35 L185.48,169.44 L184.33,164.37 L183.18,159.16 L182.03,153.82 L180.87,148.36 L179.72,142.79 L178.57,137.13 L177.42,131.37 L176.27,125.54 L175.12,119.62 L173.97,113.64 L172.82,107.59 L171.66,101.49 L170.51,95.33 L169.36,89.12 L168.21,82.86 L167.06,76.56 L165.91,70.22 L164.76,63.85 L163.61,57.44 L162.45,51.00 L161.30,44.52 L160.15,38.03 L159.00,31.50 L158.20,31.50 L157.05,289.70 L156.55,289.70 L154.70,31.50 L157.00,31.50 L157.05,34.15 L157.11,37.56 L157.18,41.59 L157.26,46.13 L157.34,51.04 L157.44,56.19 L157.54,61.45 L157.65,66.70 L157.77,71.81 L157.91,76.65 L158.05,81.09 L158.20,85.00 L158.37,88.49 L158.55,91.76 L158.75,94.83 L158.96,97.74 L159.17,100.51 L159.40,103.16 L159.63,105.71 L159.87,108.20 L160.10,110.65 L160.34,113.08 L160.57,115.53 L160.80,118.00 L161.02,120.44 L161.24,122.79 L161.46,125.05 L161.67,127.26 L161.89,129.42 L162.11,131.56 L162.34,133.70 L162.57,135.85 L162.81,138.04 L163.06,140.28 L163.32,142.59 L163.60,145.00 L163.90,147.53 L164.21,150.18 L164.54,152.93 L164.89,155.74 L165.24,158.59 L165.60,161.44 L165.96,164.26 L166.31,167.04 L166.66,169.73 L166.99,172.30 L167.30,174.74 L167.60,177.00 L167.88,179.13 L168.15,181.18 L168.42,183.16 L168.68,185.06 L168.93,186.87 L169.17,188.59 L169.40,190.23 L169.62,191.78 L169.83,193.23 L170.03,194.59 L170.22,195.84 L170.40,197.00 L170.56,198.06 L170.71,199.03 L170.84,199.90 L170.95,200.69 L171.06,201.37 L171.16,201.97 L171.25,202.47 L171.34,202.87 L171.42,203.18 L171.51,203.38 L171.60,203.49 L171.70,203.50 L171.80,203.41 L171.89,203.22 L171.98,202.93 L172.07,202.54 L172.15,202.05 L172.24,201.47 L172.32,200.79 L172.41,200.02 L172.50,199.15 L172.60,198.19 L172.69,197.14 L172.80,196.00 L172.91,194.74 L173.02,193.33 L173.12,191.79 L173.23,190.15 L173.35,188.41 L173.46,186.59 L173.58,184.72 L173.71,182.80 L173.85,180.85 L173.99,178.89 L174.14,176.93 L174.30,175.00 L174.47,173.03 L174.66,170.98 L174.85,168.87 L175.05,166.70 L175.26,164.51 L175.48,162.31 L175.69,160.12 L175.91,157.96 L176.14,155.85 L176.36,153.81 L176.58,151.85 L176.80,150.00 L177.02,148.27 L177.23,146.64 L177.45,145.10 L177.67,143.63 L177.90,142.21 L178.12,140.81 L178.34,139.43 L178.57,138.04 L178.80,136.62 L179.03,135.15 L179.26,133.62 L179.50,132.00 L179.74,130.32 L179.98,128.60 L180.23,126.85 L180.47,125.07 L180.72,123.27 L180.98,121.44 L181.23,119.58 L181.48,117.70 L181.74,115.80 L181.99,113.89 L182.25,111.95 L182.50,110.00 L182.76,108.02 L183.02,106.01 L183.29,103.96 L183.57,101.89 L183.84,99.80 L184.11,97.69 L184.38,95.57 L184.64,93.44 L184.90,91.32 L185.15,89.20 L185.38,87.09 L185.60,85.00 L185.81,82.93 L186.00,80.87 L186.18,78.83 L186.35,76.80 L186.52,74.76 L186.68,72.72 L186.83,70.66 L186.98,68.59 L187.13,66.50 L187.29,64.37 L187.44,62.21 L187.60,60.00 L187.77,57.66 L187.94,55.12 L188.13,52.45 L188.31,49.70 L188.49,46.93 L188.67,44.19 L188.85,41.53 L189.01,39.02 L189.16,36.70 L189.29,34.64 L189.41,32.89 L189.50,31.50 L191.61,35.14 L193.72,38.79 L195.83,42.43 L197.94,46.07 L200.05,49.70 L202.16,53.34 L204.27,56.97 L206.38,60.60 L208.49,64.23 L210.60,67.86 L212.71,71.48 L214.82,75.11 L216.93,78.73 L219.04,82.34 L221.15,85.96 L223.26,89.57 L225.37,93.18 L227.48,96.78 L229.59,100.39 L231.70,103.98 L233.81,107.58 L235.92,111.17 L238.03,114.76 L240.14,118.34 L242.25,121.92 L244.36,125.49 L246.47,129.06 L248.58,132.63 L250.69,136.18 L252.80,139.74 L254.91,143.28 L257.02,146.82 L259.13,150.36 L261.24,153.88 L263.35,157.40 L265.46,160.91 L267.57,164.41 L269.68,167.90 L271.79,171.39 L273.91,174.86 L276.02,178.32 L278.13,181.77 L280.24,185.20 L282.35,188.63 L284.46,192.03 L286.57,195.42 L288.68,198.80 L290.79,202.15 L292.90,205.49 L295.01,208.80 L297.12,212.09 L299.23,215.36 L301.34,218.59 L303.45,221.80 L305.56,224.97 L307.67,228.11 L309.78,231.20 L311.89,234.26 L314.00,237.26 L316.11,240.21 L318.22,243.11 L320.33,245.93 L322.44,248.69 L324.55,251.37 L326.66,253.96 L328.77,256.46 L330.88,258.85 L332.99,261.12 L335.10,263.26 L337.21,265.26 L339.32,267.11 L341.43,268.78 L343.54,270.27 L345.65,271.56 L347.76,272.63 L349.87,273.49 L351.98,274.10 L354.09,274.48 L356.20,274.60 L357.99,274.51 L359.77,274.24 L361.56,273.80 L363.35,273.19 L365.14,272.42 L366.92,271.48 L368.71,270.40 L370.50,269.17 L372.29,267.81 L374.07,266.32 L375.86,264.71 L377.65,263.00 L379.44,261.19 L381.22,259.28 L383.01,257.29 L384.80,255.22 L386.58,253.08 L388.37,250.87 L390.16,248.60 L391.95,246.27 L393.73,243.90 L395.52,241.47 L397.31,239.01 L399.10,236.50 L400.88,233.96 L402.67,231.38 L404.46,228.77 L406.25,226.14 L408.03,223.47 L409.82,220.78 L411.61,218.07 L413.39,215.34 L415.18,212.58 L416.97,209.81 L418.76,207.02 L420.54,204.22 L422.33,201.40 L424.12,198.56 L425.91,195.72 L427.69,192.86 L429.48,189.99 L431.27,187.10 L433.06,184.21 L434.84,181.31 L436.63,178.40 L438.42,175.48 L440.21,172.55 L441.99,169.62 L443.78,166.67 L445.57,163.72 L447.35,160.77 L449.14,157.81 L450.93,154.84 L452.72,151.87 L454.50,148.89 L456.29,145.90 L458.08,142.91 L459.87,139.92 L461.65,136.92 L463.44,133.92 L465.23,130.92 L467.02,127.91 L468.80,124.89 L470.59,121.88 L472.38,118.86 L474.16,115.83 L475.95,112.81 L477.74,109.78 L479.53,106.75 L481.31,103.71 L483.10,100.68 L484.89,97.64 L486.68,94.60 L488.46,91.55 L490.25,88.51 L492.04,85.46 L493.83,82.41 L495.61,79.35 L497.40,76.30" fill="none" stroke="#000" stroke-width="1.9" stroke-linejoin="round"/>
<path d="M79.50,331.20 L79.50,31.30 L497.61,31.30 L497.61,331.20" fill="none" stroke="#000" stroke-width="3.25" stroke-linejoin="miter"/>
<line x1="79.50" y1="329.60" x2="497.61" y2="329.60" stroke="#000" stroke-width="3.25" stroke-dasharray="11.8 5.3"/>
<text x="85.6" y="76.8" font-size="17.8" fill="#1a1a1a" textLength="65.5" lengthAdjust="spacingAndGlyphs">Injection</text>
<line x1="79.5" y1="86.2" x2="112" y2="86.2" stroke="#000" stroke-width="2"/>
<path d="M109.3,81.8 L123,86.2 L109.3,90.6 Z" fill="#000"/>
<text y="26.8" font-size="17.8" fill="#1a1a1a"><tspan x="200" textLength="72.8" lengthAdjust="spacingAndGlyphs">Dielectric</tspan> <tspan x="279.3" textLength="61.4" lengthAdjust="spacingAndGlyphs">material</tspan> <tspan x="347.4" textLength="30" lengthAdjust="spacingAndGlyphs">wall</tspan></text>
<text x="272.6" y="324.8" font-size="17.8" fill="#1a1a1a" textLength="33" lengthAdjust="spacingAndGlyphs">Axis</text>
<circle cx="79.4" cy="168.7" r="4.1" fill="#000" stroke="#000" stroke-width="1"/>
<circle cx="79.4" cy="206.3" r="4.1" fill="#1010e8" stroke="#000" stroke-width="1"/>
<circle cx="79.5" cy="228.9" r="4.1" fill="#f0101c" stroke="#000" stroke-width="1"/>
<rect x="493.45" y="37.45" width="8.1" height="8.1" fill="#1010e8" stroke="#000" stroke-width="1"/>
<rect x="493.35" y="72.25" width="8.1" height="8.1" fill="#000" stroke="#000" stroke-width="1"/>
<rect x="493.35" y="248.15" width="8.1" height="8.1" fill="#f0101c" stroke="#000" stroke-width="1"/>
</svg>
</body></html>
